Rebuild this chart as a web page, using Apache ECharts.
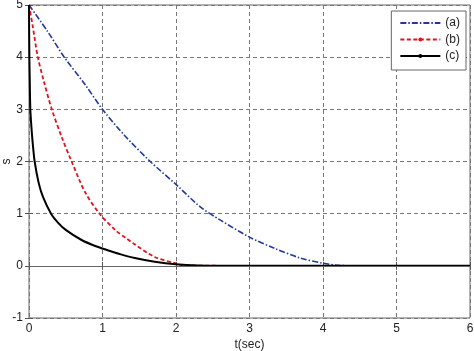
<!DOCTYPE html>
<html>
<head>
<meta charset="utf-8">
<script src="https://cdn.jsdelivr.net/npm/echarts@6/dist/echarts.min.js"></script>
<style>
  html, body { margin: 0; padding: 0; background: #fff; }
  #chart { width: 474px; height: 351px; }
</style>
</head>
<body>
<div id="chart"></div>
<script>
// curve (a): blue dash-dot
var tA = [0, 0.25, 0.48, 0.76, 1.0, 1.3, 1.65, 2.0, 2.33, 2.6, 3.0, 3.35, 3.69, 4.0, 4.2, 4.5, 5, 6]
var sA = [5, 4.5, 4.0, 3.48, 3.0, 2.5, 2.0, 1.56, 1.13, 0.88, 0.55, 0.33, 0.15, 0.05, 0.01, 0, 0, 0]
// curve (b): red dashed
var tB = [0, 0.05, 0.12, 0.2, 0.31, 0.45, 0.58, 0.76, 0.96, 1.17, 1.33, 1.44, 1.71, 1.99, 2.1, 3, 6]
var sB = [5, 4.6, 4.0, 3.55, 3.0, 2.45, 2.0, 1.42, 1.0, 0.69, 0.52, 0.41, 0.17, 0.05, 0.01, 0, 0]
// curve (c): black solid
var tC = [0, 0.002, 0.005, 0.01, 0.018, 0.036, 0.054, 0.077, 0.13, 0.19, 0.3, 0.4, 0.5, 0.71, 0.9, 1.07, 1.25, 1.44, 1.71, 2.0, 2.3, 2.6, 6]
var sC = [5, 4.5, 4.0, 3.6, 3.0, 2.6, 2.3, 2.0, 1.6, 1.32, 1.0, 0.82, 0.69, 0.5, 0.38, 0.3, 0.22, 0.15, 0.08, 0.03, 0.005, 0, 0]

var names = ['(a)', '(b)', '(c)']

function pairs (t, s) {
  return t.map(function (v, i) { return [v, s[i]] })
}

var font = '"Liberation Sans", Arial, sans-serif'
var chart = echarts.init(document.getElementById('chart'))

var tickStyle = { inside: true, length: 4, lineStyle: { color: '#555' } }

chart.setOption({
  animation: false,
  textStyle: { fontFamily: font },
  grid: {
    left: 29, right: 4, top: 5, bottom: 33,
    containLabel: false,
    outerBoundsMode: 'none',
    show: true, borderColor: '#666', borderWidth: 1
  },
  legend: {
    data: [
      { name: names[0], itemStyle: { color: 'rgba(0,0,0,0)', borderWidth: 0 } },
      { name: names[1] },
      { name: names[2] }
    ],
    orient: 'vertical',
    right: 8,
    top: 11,
    itemWidth: 40,
    itemHeight: 5,
    itemGap: 4.5,
    padding: [6, 6, 8, 8],
    backgroundColor: '#fff',
    borderColor: '#666',
    borderWidth: 1,
    borderRadius: 0,
    textStyle: { fontSize: 12, color: '#222', fontFamily: font }
  },
  xAxis: [{
    type: 'value',
    min: 0, max: 6, interval: 1,
    name: 't(sec)',
    nameLocation: 'middle',
    nameGap: 21,
    nameMoveOverlap: false,
    nameTextStyle: { fontSize: 12, color: '#222' },
    axisLine: { show: false },
    axisTick: tickStyle,
    axisLabel: { fontSize: 12, color: '#222', margin: 5 },
    splitLine: { lineStyle: { type: [4, 3], color: '#777' } }
  }, {
    type: 'value', position: 'top',
    min: 0, max: 6, interval: 1,
    axisLine: { show: false }, axisTick: tickStyle,
    axisLabel: { show: false }, splitLine: { show: false }
  }],
  yAxis: [{
    type: 'value',
    min: -1, max: 5, interval: 1,
    name: 's',
    nameLocation: 'middle',
    nameGap: 16,
    nameMoveOverlap: false,
    nameTextStyle: { fontSize: 12, color: '#222' },
    axisLine: { show: false },
    axisTick: tickStyle,
    axisLabel: { fontSize: 12, color: '#222', margin: 6 },
    splitLine: { lineStyle: { type: [4, 3], color: '#777' } }
  }, {
    type: 'value', position: 'right',
    min: -1, max: 5, interval: 1,
    axisLine: { show: false }, axisTick: tickStyle,
    axisLabel: { show: false }, splitLine: { show: false }
  }],
  series: [
    {
      name: names[0],
      type: 'line',
      data: pairs(tA, sA),
      smooth: 0.3,
      symbol: 'none',
      color: '#23389a',
      lineStyle: { width: 1.6, type: [6, 2, 1.5, 2], color: '#23389a' },
      markLine: {
        silent: true,
        symbol: 'none',
        label: { show: false },
        lineStyle: { type: 'solid', color: '#666', width: 1 },
        data: [{ yAxis: 0 }]
      }
    },
    {
      name: names[1],
      type: 'line',
      data: pairs(tB, sB),
      smooth: 0.3,
      symbol: 'circle',
      symbolSize: 5,
      showSymbol: false,
      color: '#e0141e',
      lineStyle: { width: 1.8, type: [4, 2.5], color: '#e0141e' }
    },
    {
      name: names[2],
      type: 'line',
      data: pairs(tC, sC),
      smooth: 0.3,
      symbol: 'circle',
      symbolSize: 5,
      showSymbol: false,
      color: '#000',
      lineStyle: { width: 2, color: '#000' }
    }
  ]
})
</script>
</body>
</html>
